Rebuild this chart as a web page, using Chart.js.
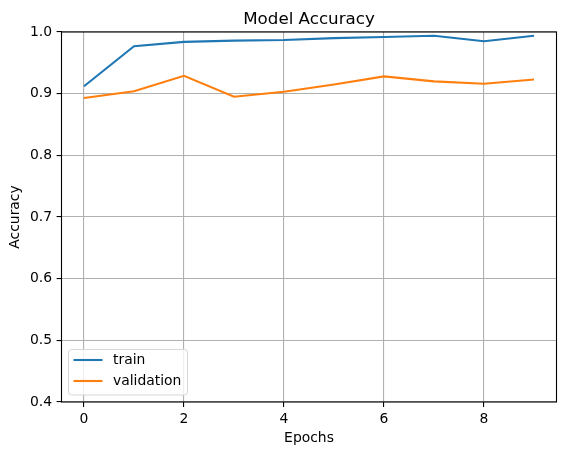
<!DOCTYPE html>
<html>
<head>
<meta charset="utf-8">
<script src="https://cdn.jsdelivr.net/npm/chart.js@4.4.1/dist/chart.umd.min.js"></script>
<style>
  html, body { margin: 0; padding: 0; background: #fff; }
  #wrap { width: 567px; height: 455px; }
</style>
</head>
<body>
<div id="wrap"><canvas id="myChart" width="567" height="455"></canvas></div>
<script>
// values
var epochs   = [0, 1, 2, 3, 4, 5, 6, 7, 8, 9];
var trainAcc = [0.912, 0.977, 0.984, 0.986, 0.987, 0.990, 0.992, 0.994, 0.985, 0.994];
var valAcc   = [0.893, 0.904, 0.929, 0.895, 0.903, 0.915, 0.928, 0.920, 0.916, 0.923];
var xTicks   = [0, 2, 4, 6, 8];
var yTicks   = [0.4, 0.5, 0.6, 0.7, 0.8, 0.9, 1.0];

var FONT = "'DejaVu Sans', sans-serif";
var BLUE = '#1f77b4', ORANGE = '#ff7f0e';

function pts(ys) {
  var out = [];
  for (var i = 0; i < epochs.length; i++) out.push({ x: epochs[i], y: ys[i] });
  return out;
}

// title, frame and legend the matplotlib way
var extras = {
  id: 'extras',
  afterDraw: function(chart) {
    var ctx = chart.ctx, a = chart.chartArea;
    ctx.save();
    // spines
    ctx.strokeStyle = '#000';
    ctx.lineWidth = 1.1;
    ctx.strokeRect(a.left, a.top, a.right - a.left, a.bottom - a.top);

    // title
    ctx.fillStyle = '#000';
    ctx.font = '16.7px ' + FONT;
    ctx.textAlign = 'center';
    ctx.textBaseline = 'alphabetic';
    ctx.fillText('Model Accuracy', (a.left + a.right) / 2, 24);

    // legend box
    var bx = 68.5, by = 349.5, bw = 119, bh = 45.5, r = 3;
    ctx.beginPath();
    ctx.moveTo(bx + r, by);
    ctx.lineTo(bx + bw - r, by);
    ctx.quadraticCurveTo(bx + bw, by, bx + bw, by + r);
    ctx.lineTo(bx + bw, by + bh - r);
    ctx.quadraticCurveTo(bx + bw, by + bh, bx + bw - r, by + bh);
    ctx.lineTo(bx + r, by + bh);
    ctx.quadraticCurveTo(bx, by + bh, bx, by + bh - r);
    ctx.lineTo(bx, by + r);
    ctx.quadraticCurveTo(bx, by, bx + r, by);
    ctx.closePath();
    ctx.fillStyle = 'rgba(255,255,255,0.8)';
    ctx.fill();
    ctx.strokeStyle = '#d6d6d6';
    ctx.lineWidth = 1;
    ctx.stroke();

    var items = [['train', BLUE, 360], ['validation', ORANGE, 381]];
    ctx.font = '13.9px ' + FONT;
    ctx.textAlign = 'left';
    ctx.textBaseline = 'middle';
    items.forEach(function(it) {
      ctx.strokeStyle = it[1];
      ctx.lineWidth = 2.1;
      ctx.beginPath();
      ctx.moveTo(73.5, it[2]);
      ctx.lineTo(102.5, it[2]);
      ctx.stroke();
      ctx.fillStyle = '#000';
      ctx.fillText(it[0], 113, it[2]);
    });
    ctx.restore();
  }
};

var ctx = document.getElementById('myChart').getContext('2d');
var chart = new Chart(ctx, {
  type: 'line',
  data: {
    datasets: [
      { label: 'train', data: pts(trainAcc), borderColor: BLUE, borderWidth: 2.1, pointRadius: 0, tension: 0, fill: false },
      { label: 'validation', data: pts(valAcc), borderColor: ORANGE, borderWidth: 2.1, pointRadius: 0, tension: 0, fill: false }
    ]
  },
  options: {
    responsive: false,
    animation: false,
    devicePixelRatio: 1,
    layout: { padding: { left: 0, right: 10.5, top: 32, bottom: 0 } },
    plugins: { legend: { display: false }, title: { display: false }, tooltip: { enabled: false } },
    scales: {
      x: {
        type: 'linear',
        min: -0.45, max: 9.45,
        afterBuildTicks: function(s) { s.ticks = xTicks.map(function(v) { return { value: v }; }); },
        afterFit: function(s) { s.height = 53; },
        grid: { color: '#b0b0b0', lineWidth: 1.1, tickLength: 4.9, tickColor: '#000', tickWidth: 1.1 },
        border: { display: false },
        ticks: { color: '#000', padding: 4.5, maxRotation: 0, font: { family: FONT, size: 13.9 },
                 callback: function(v) { return String(v); } },
        title: { display: true, text: 'Epochs', color: '#000', font: { family: FONT, size: 13.9 }, padding: { top: 0, bottom: 8.5 } }
      },
      y: {
        min: 0.4, max: 1.0,
        afterBuildTicks: function(s) { s.ticks = yTicks.map(function(v) { return { value: v }; }); },
        afterFit: function(s) { s.width = 61.5; },
        grid: { color: '#b0b0b0', lineWidth: 1.1, tickLength: 4.9, tickColor: '#000', tickWidth: 1.1 },
        border: { display: false },
        ticks: { color: '#000', padding: 4.5, font: { family: FONT, size: 13.9 },
                 callback: function(v) { return v.toFixed(1); } },
        title: { display: true, text: 'Accuracy', color: '#000', font: { family: FONT, size: 13.9 }, padding: { top: 7.5, bottom: 0 } }
      }
    }
  },
  plugins: [extras]
});
</script>
</body>
</html>
